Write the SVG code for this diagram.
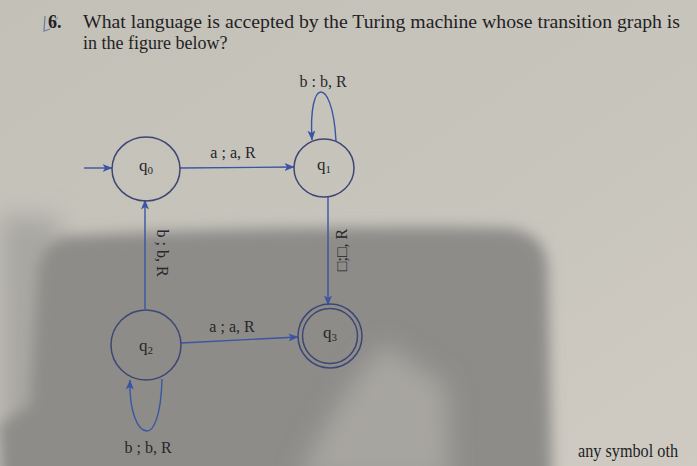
<svg xmlns="http://www.w3.org/2000/svg" width="697" height="466" viewBox="0 0 697 466">
  <defs>
    <style>
      .edge { fill: none; stroke: #3a55a3; stroke-width: 1.4; }
      .node { fill: none; stroke: #3d4674; stroke-width: 1.5; }
      .lbl { font-family: "Liberation Serif", "Times New Roman", serif; font-size: 16px; fill: #26262c; }
      .q { font-family: "Liberation Serif", "Times New Roman", serif; font-size: 17px; fill: #26262c; text-anchor: middle; }
      .sub { font-size: 11px; }
      .title { font-family: "Liberation Serif", "Times New Roman", serif; font-size: 18px; fill: #1f1f24; }
    </style>
    <marker id="arr" viewBox="0 0 10 8" refX="9.5" refY="4" markerWidth="10" markerHeight="8" markerUnits="userSpaceOnUse" orient="auto">
      <path d="M0,0 L10,4 L0,8 L2.5,4 z" fill="#3a55a3"/>
    </marker>
    <linearGradient id="paper" x1="0" y1="0" x2="1" y2="1">
      <stop offset="0" stop-color="#c3c0b8"/>
      <stop offset="0.6" stop-color="#c8c5bd"/>
      <stop offset="1" stop-color="#cfcbc3"/>
    </linearGradient>
    <filter id="blur" x="-20%" y="-20%" width="140%" height="140%">
      <feGaussianBlur stdDeviation="7"/>
    </filter>
    <filter id="blur2" x="-30%" y="-30%" width="160%" height="160%">
      <feGaussianBlur stdDeviation="12"/>
    </filter>
  </defs>

  <!-- paper and shadows -->
  <rect x="0" y="0" width="697" height="466" fill="url(#paper)"/>
  <path d="M0,215 L60,218 L60,440 L0,440 z" fill="#a9a7a2" filter="url(#blur2)"/>
  <path d="M70,236 C200,228 420,226 500,228 C535,229 548,245 548,275 L552,480 L0,480 L0,425 L30,405 L38,270 C42,250 52,238 70,236 z" fill="#8d8c89" filter="url(#blur)"/>
  <path d="M386,345 C395,350 430,375 446,385 L450,480 L298,480 C320,430 370,352 386,345 z" fill="#a7a5a0" filter="url(#blur2)"/>

  <!-- title -->
  <path d="M45,16 L44,31 L50,29" fill="none" stroke="#6f7fa9" stroke-width="1.3"/>
  <path d="M50,28 L58,17" fill="none" stroke="#7d8aae" stroke-width="1"/>
  <text class="title" x="48" y="28" font-weight="bold">6.</text>
  <text class="title" x="83" y="28" textLength="597" lengthAdjust="spacingAndGlyphs">What language is accepted by the Turing machine whose transition graph is</text>
  <text class="title" x="83" y="49">in the figure below?</text>

  <!-- connectors -->
  <g id="connectors">
    <line class="edge" x1="84" y1="168" x2="112" y2="168" marker-end="url(#arr)"/>
    <line class="edge" x1="180" y1="168" x2="294" y2="167" marker-end="url(#arr)"/>
    <line class="edge" x1="328" y1="197" x2="328" y2="305" marker-end="url(#arr)"/>
    <line class="edge" x1="145" y1="309" x2="145" y2="200" marker-end="url(#arr)"/>
    <line class="edge" x1="181" y1="343" x2="298" y2="337" marker-end="url(#arr)"/>
    <path class="edge" d="M336,141 C334,104 326,92 321,92 C315,92 310,108 312,140" marker-end="url(#arr)"/>
    <path class="edge" d="M162,379 C161,418 153,431 147,431 C138,431 129,412 130,380" marker-end="url(#arr)"/>
    <text class="lbl" x="233" y="158" text-anchor="middle">a ; a, R</text>
    <text class="lbl" x="232" y="332" text-anchor="middle">a ; a, R</text>
    <text class="lbl" x="323" y="87" text-anchor="middle">b : b, R</text>
    <text class="lbl" x="148" y="453" text-anchor="middle">b ; b, R</text>
    <text class="lbl" x="0" y="0" text-anchor="middle" transform="translate(157,253) rotate(90)">b ; b, R</text>
    <text class="lbl" x="0" y="0" text-anchor="middle" transform="translate(347,250) rotate(-90)">□;□, R</text>
  </g>

  <!-- nodes -->
  <g id="q0">
    <ellipse class="node" cx="146" cy="169" rx="34" ry="32"/>
    <text class="q" x="146" y="171">q<tspan class="sub" dy="3">0</tspan></text>
  </g>
  <g id="q1">
    <ellipse class="node" cx="324" cy="168" rx="30" ry="29"/>
    <text class="q" x="324" y="170">q<tspan class="sub" dy="3">1</tspan></text>
  </g>
  <g id="q2">
    <ellipse class="node" cx="146" cy="345" rx="35" ry="35"/>
    <text class="q" x="146" y="351">q<tspan class="sub" dy="3">2</tspan></text>
  </g>
  <g id="q3">
    <circle class="node" cx="330" cy="336" r="32"/>
    <circle class="node" cx="330" cy="336" r="27.5"/>
    <text class="q" x="330" y="338">q<tspan class="sub" dy="3">3</tspan></text>
  </g>

  <text class="title" x="578" y="457" font-size="16" textLength="100" lengthAdjust="spacingAndGlyphs">any symbol oth</text>
</svg>
